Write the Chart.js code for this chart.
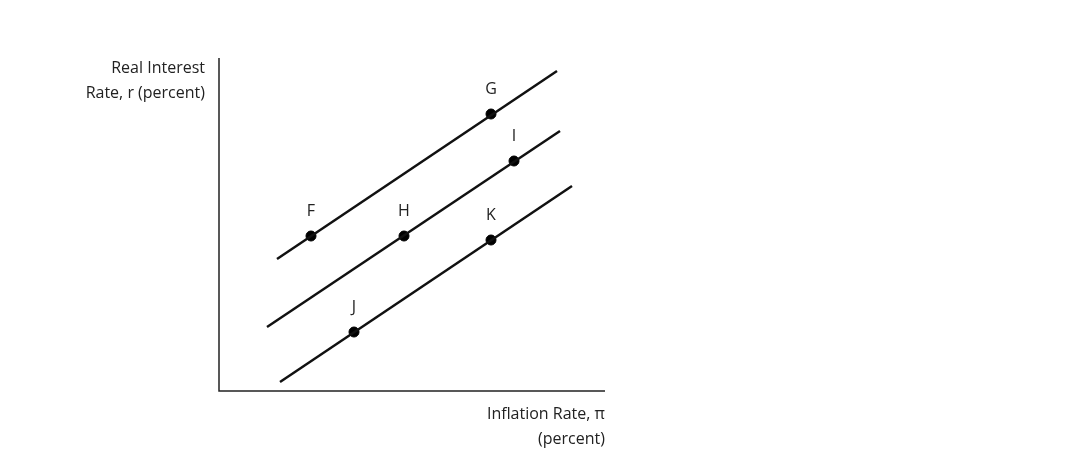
<!DOCTYPE html>
<html><head><meta charset="utf-8">
<script src="https://cdn.jsdelivr.net/npm/chart.js@4"></script>
<style>html,body{margin:0;background:#fff}#wrap{width:1092px;height:452px}</style>
</head><body><div id="wrap"><canvas id="c"></canvas></div>
<script>
// curves (x = inflation, y = real interest), arbitrary units
const lineTop = [{x:58,y:132},{x:338,y:320}];
const lineMid = [{x:48,y:64},{x:341,y:260}];
const lineBot = [{x:61,y:9},{x:353,y:205}];
const pointNames = ['F','G','H','I','K','J'];
const pointX = [92,272,185,295,272,135];
const pointY = [155,277,155,230,151,59];
const xTitle = ['Inflation Rate, \u03c0','(percent)'];
const yTitle = ['Real Interest','Rate, r (percent)'];

const pts = pointX.map((x,i) => ({x:x, y:pointY[i]}));
const font = '16px "Open Sans", "Noto Sans", sans-serif';

const decor = {
    id: 'decor',
    afterDraw(chart) {
        const {ctx, chartArea:a, scales} = chart;
        ctx.save();
        ctx.strokeStyle = '#222'; ctx.lineWidth = 1.5;
        ctx.beginPath();
        ctx.moveTo(a.left, a.top); ctx.lineTo(a.left, a.bottom); ctx.lineTo(a.right, a.bottom);
        ctx.stroke();
        ctx.fillStyle = '#222'; ctx.font = font;
        ctx.textAlign = 'center'; ctx.textBaseline = 'alphabetic';
        pts.forEach((p,i) => {
            ctx.fillText(pointNames[i], scales.x.getPixelForValue(p.x), scales.y.getPixelForValue(p.y) - 20);
        });
        ctx.textAlign = 'right'; ctx.textBaseline = 'middle';
        ctx.fillText(yTitle[0], a.left - 14, 68);
        ctx.fillText(yTitle[1], a.left - 14, 93);
        ctx.fillText(xTitle[0], a.right, 414);
        ctx.fillText(xTitle[1], a.right, 439);
        ctx.restore();
    }
};

const lineDs = d => ({type:'line', data:d, borderColor:'#111', borderWidth:2.5, pointRadius:0, fill:false});

new Chart(document.getElementById('c'), {
    type: 'scatter',
    data: {
        datasets: [
            lineDs(lineTop), lineDs(lineMid), lineDs(lineBot),
            {data: pts, backgroundColor:'#000', borderColor:'#000', pointRadius:5}
        ]
    },
    options: {
        responsive: true,
        maintainAspectRatio: false,
        animation: false,
        layout: {padding: {left:219, right:487, top:58, bottom:61}},
        plugins: {legend:{display:false}, tooltip:{enabled:false}},
        scales: {
            x: {type:'linear', min:0, max:386, display:false},
            y: {type:'linear', min:0, max:333, display:false}
        }
    },
    plugins: [decor]
});
</script></body></html>
